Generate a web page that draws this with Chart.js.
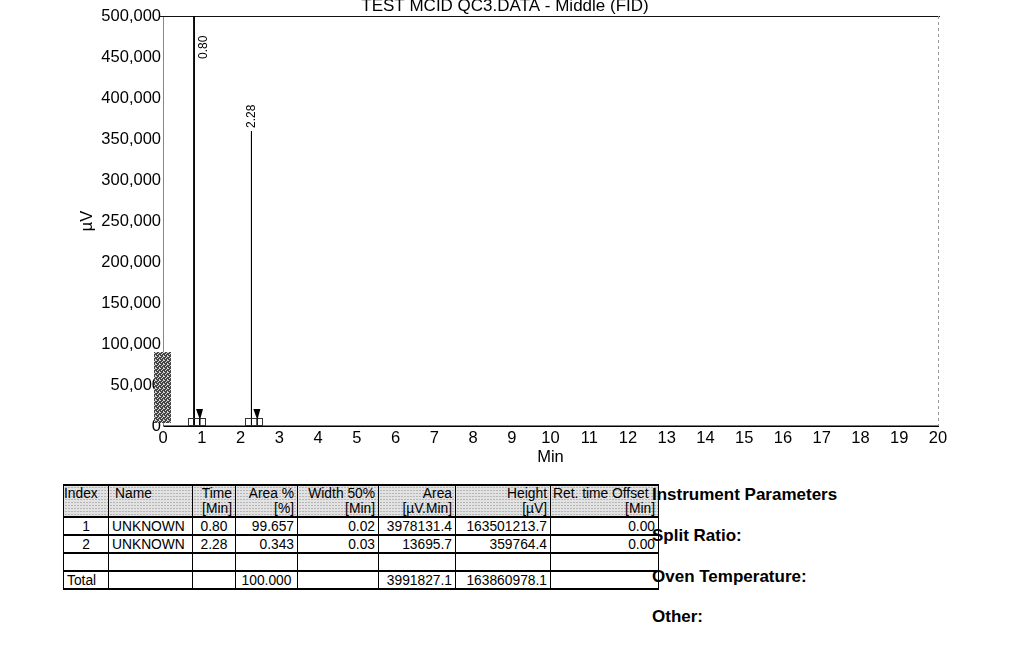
<!DOCTYPE html>
<html>
<head>
<meta charset="utf-8">
<script src="https://cdn.jsdelivr.net/npm/chart.js@4.4.1/dist/chart.umd.min.js"></script>
<style>
  body { margin: 0; background: #fff; font-family: "Liberation Sans", Arial, sans-serif; color: #000; }
  #wrap { position: relative; width: 1024px; height: 645px; overflow: hidden; }
  #chart { position: absolute; left: 0; top: 0; }
  #peaks { position: absolute; left: 63px; top: 484px; border-collapse: collapse; table-layout: fixed;
           font-size: 13.8px; line-height: 15px; }
  #peaks td { border-left: 1px solid #000; border-right: 1px solid #000; border-top: 2px solid #000;
              border-bottom: 2px solid #000; padding: 0 3px; white-space: nowrap; overflow: visible; height: 16px; }
  #peaks tr.head td { background-color: #e2e2e2;
              background-image: radial-gradient(#8a8a8a 0.7px, transparent 0.9px);
              background-size: 3px 3px; height: 29px; vertical-align: top; text-align: right; }
  #peaks td.r { text-align: right; }
  #peaks td.c { text-align: center; }
  #peaks td.l, #peaks tr.head td.l { text-align: left; }
  .side { position: absolute; left: 652px; font-weight: bold; font-size: 17px; line-height: 20px; z-index: 2; }
</style>
</head>
<body>
<div id="wrap">
  <canvas id="chart" width="1024" height="470"></canvas>
  <table id="peaks"></table>
  <div class="side" style="top:485px">Instrument Parameters</div>
  <div class="side" style="top:526px">Split Ratio:</div>
  <div class="side" style="top:567px">Oven Temperature:</div>
  <div class="side" style="top:607px">Other:</div>
</div>
<script>
// detector trace (min, µV)
const timeMin = [0, 0.795, 0.80, 0.805, 2.275, 2.28, 2.285, 20];
const signalUV = [0, 0, 163501213.7, 0, 0, 359764.4, 0, 0];

// peak table
const peakIndex = [1, 2];
const peakName = ["UNKNOWN", "UNKNOWN"];
const peakTime = [0.80, 2.28];
const areaPct = ["99.657", "0.343"];
const width50 = ["0.02", "0.03"];
const areaUVMin = ["3978131.4", "13695.7"];
const heightUV = [163501213.7, 359764.4];
const retOffset = ["0.00", "0.00"];
const totalAreaPct = "100.000";
const totalArea = "3991827.1";
const totalHeight = "163860978.1";

const yMax = 500000;
const yStep = 50000;
const xMax = 20;

const FONT = '"Liberation Sans", Arial, sans-serif';

// dithered block pattern
const pc = document.createElement("canvas");
pc.width = 4; pc.height = 4;
const pctx = pc.getContext("2d");
pctx.fillStyle = "#474747";
pctx.fillRect(0, 0, 4, 4);
pctx.fillStyle = "#d4d4d4";
[[0, 0], [2, 1], [1, 2], [3, 3], [3, 0]].forEach(p => pctx.fillRect(p[0], p[1], 1, 1));

const frame = {
  id: "frame",
  beforeDatasetsDraw(chart) {
    const { ctx, chartArea: { left, right, top, bottom } } = chart;
    ctx.save();
    ctx.strokeStyle = "#111";
    ctx.lineWidth = 1;
    ctx.beginPath();
    ctx.moveTo(left - 3, top + 0.5);
    ctx.lineTo(right + 2, top + 0.5);
    ctx.stroke();
    ctx.strokeStyle = "#999";
    ctx.setLineDash([3, 3]);
    ctx.beginPath();
    ctx.moveTo(right + 0.5, top);
    ctx.lineTo(right + 0.5, bottom);
    ctx.stroke();
    ctx.restore();
  }
};

const peakMarks = {
  id: "peakMarks",
  afterDatasetsDraw(chart) {
    const { ctx, chartArea, scales: { x, y } } = chart;
    const bottom = chartArea.bottom;
    ctx.save();
    // block at the origin
    ctx.fillStyle = ctx.createPattern(pc, "repeat");
    ctx.fillRect(chartArea.left - 9, bottom - 74, 17, 71);

    peakTime.forEach((t, i) => {
      const px = x.getPixelForValue(t);
      const apex = y.getPixelForValue(heightUV[i]);
      ctx.strokeStyle = "#333";
      ctx.lineWidth = 1;
      ctx.strokeRect(Math.round(px - 6.5) + 0.5, bottom - 7.5, 17, 7);
      ctx.fillStyle = "#000";
      ctx.beginPath();
      ctx.moveTo(px + 2, bottom - 17);
      ctx.lineTo(px + 9, bottom - 17);
      ctx.lineTo(px + 6, bottom - 6);
      ctx.closePath();
      ctx.fill();
      ctx.fillRect(px + 5, bottom - 7, 1.5, 6);

      const clipped = apex < chartArea.top;
      const lx = clipped ? px + 10 : px + 0.5;
      const ly = clipped ? chartArea.top + 43 : apex - 3;
      ctx.save();
      ctx.translate(lx, ly);
      ctx.rotate(-Math.PI / 2);
      ctx.font = "12px " + FONT;
      ctx.textAlign = "left";
      ctx.textBaseline = "middle";
      ctx.fillText(t.toFixed(2), 0, 0);
      ctx.restore();
    });
    ctx.restore();
  }
};

new Chart(document.getElementById("chart"), {
  type: "line",
  data: {
    datasets: [{
      data: timeMin.map((t, i) => ({ x: t, y: signalUV[i] })),
      borderColor: "#000",
      borderWidth: 1,
      pointRadius: 0,
      tension: 0,
      fill: false
    }]
  },
  options: {
    responsive: false,
    animation: false,
    devicePixelRatio: 1,
    layout: { padding: { left: 0, right: 14, top: 0, bottom: 0 } },
    plugins: {
      legend: { display: false },
      tooltip: { enabled: false },
      title: {
        display: true,
        text: "TEST MCID QC3.DATA - Middle (FID)",
        color: "#000",
        font: { family: FONT, size: 17, weight: "normal", lineHeight: "16px" },
        padding: { top: -2, bottom: 2 }
      }
    },
    scales: {
      x: {
        type: "linear",
        min: 0,
        max: xMax,
        grid: { display: false, drawTicks: false },
        border: { display: true, color: "#000", width: 1 },
        ticks: { stepSize: 1, color: "#000", padding: 3, font: { family: FONT, size: 16.5 } },
        title: { display: true, text: "Min", color: "#000", font: { family: FONT, size: 16.5 }, padding: { top: 0, bottom: 3 } },
        afterFit(scale) { scale.height = 44; }
      },
      y: {
        min: 0,
        max: yMax,
        grid: { display: false, drawTicks: false },
        border: { display: true, color: "#888", width: 1, dash: [2, 3] },
        ticks: { stepSize: yStep, color: "#000", padding: 2, font: { family: FONT, size: 16.5 } },
        title: { display: true, text: "µV", color: "#000", font: { family: FONT, size: 16.5 }, padding: { top: 78, bottom: 0 } },
        afterFit(scale) { scale.width = 163; }
      },
      yRight: {
        position: "right",
        min: 0,
        max: yMax,
        grid: { display: false, drawTicks: false },
        border: { display: false },
        ticks: { display: false },
        afterFit(scale) { scale.width = 72; }
      }
    }
  },
  plugins: [frame, peakMarks]
});

// peak table
const colWidths = [45, 84, 43, 62, 81, 77, 95, 108];
const tbl = document.getElementById("peaks");
const cg = document.createElement("colgroup");
colWidths.forEach(w => { const c = document.createElement("col"); c.style.width = w + "px"; cg.appendChild(c); });
tbl.appendChild(cg);

function addRow(cells, cls) {
  const tr = document.createElement("tr");
  if (cls) tr.className = cls;
  cells.forEach(c => {
    const td = document.createElement("td");
    td.className = c[1] || "";
    td.innerHTML = c[0];
    tr.appendChild(td);
  });
  tbl.appendChild(tr);
}

addRow([
  ['<span style="margin-left:-3px">Index</span>', "l"], ['<span style="margin-left:3px">Name</span>', "l"],
  ["Time<br>[Min]"], ["Area %<br>[%]"], ["Width 50%<br>[Min]"],
  ["Area<br>[µV.Min]"], ["Height<br>[µV]"],
  ['<div style="text-align:left;margin-left:-1px">Ret. time Offset</div>[Min]']
], "head");
peakIndex.forEach((n, i) => {
  addRow([
    [String(n), "c"], [peakName[i], "l"], [peakTime[i].toFixed(2), "c"], [areaPct[i], "r"],
    [width50[i], "r"], [areaUVMin[i], "r"], [heightUV[i].toFixed(1), "r"], [retOffset[i], "r"]
  ]);
});
addRow([["&nbsp;"], [""], [""], [""], [""], [""], [""], [""]]);
addRow([
  ["Total", "l"], [""], [""], [totalAreaPct, "c"], [""], [totalArea, "r"], [totalHeight, "r"], [""]
]);
</script>
</body>
</html>
